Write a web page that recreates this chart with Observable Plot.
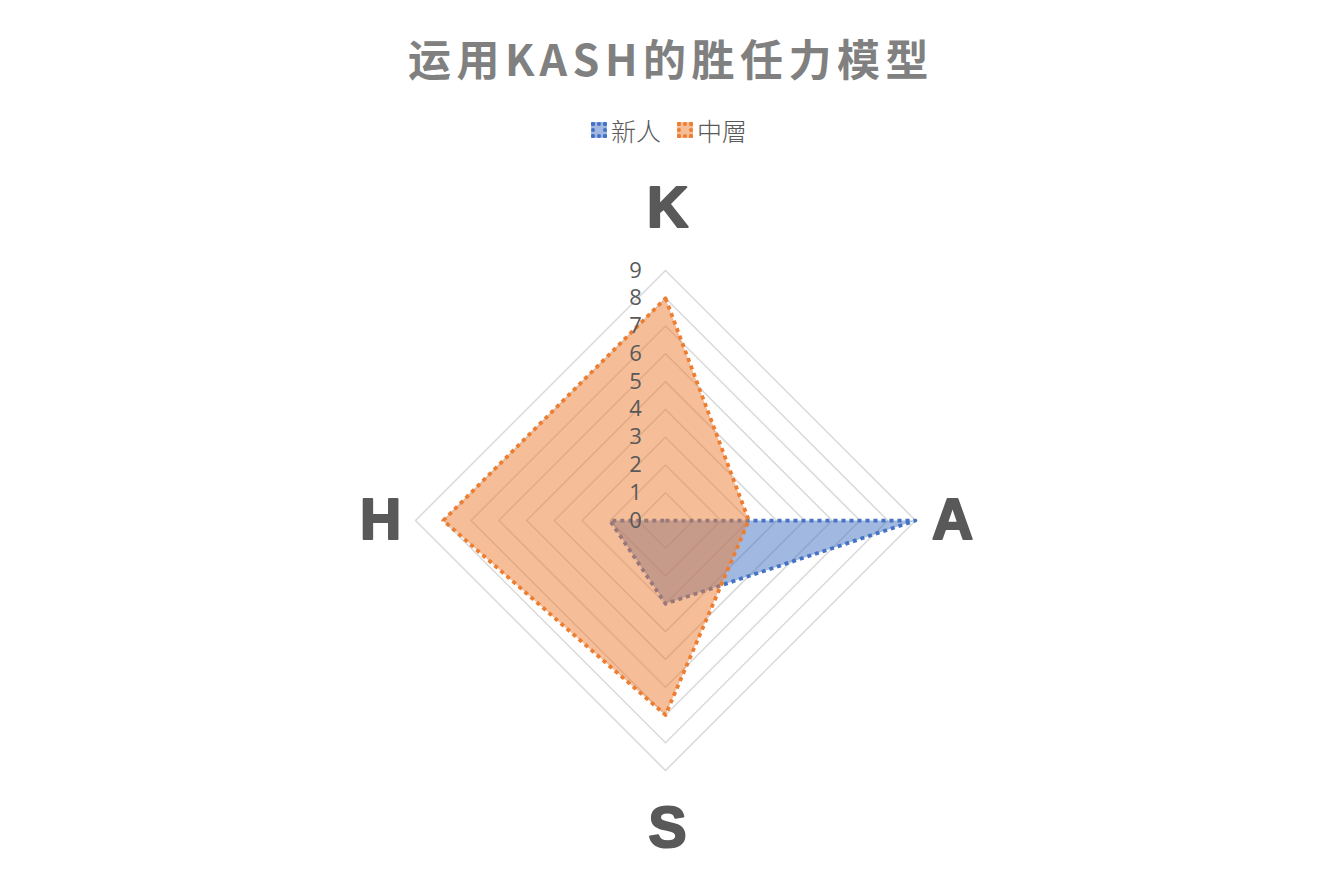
<!DOCTYPE html>
<html>
<head>
<meta charset="utf-8">
<script src="https://cdn.jsdelivr.net/npm/d3@7"></script>
<script src="https://cdn.jsdelivr.net/npm/@observablehq/plot@0.6"></script>
<style>
  html, body { margin: 0; padding: 0; background: #fff; }
  body { width: 1334px; height: 889px; overflow: hidden; }
  #title { height: 100px; line-height: 114px; text-align: center; font-family: "Noto Sans CJK SC", sans-serif; font-weight: 700; font-size: 43px; letter-spacing: 5.5px; color: #808080; padding-left: 8px; box-sizing: border-box; }
  #legend { height: 60px; display: flex; justify-content: center; align-items: center; font-family: "Noto Sans CJK TC", sans-serif; font-weight: 300; font-size: 25px; color: #595959; padding-left: 4px; box-sizing: border-box; }
  .item { display: flex; align-items: center; margin: 0 8px; }
  .sw { width: 16px; height: 16px; margin-right: 4px; box-sizing: border-box; }
  #chart svg { display: block; }
</style>
</head>
<body>
<div id="title">运用KASH的胜任力模型</div>
<div id="legend"></div>
<div id="chart"></div>
<script>
// ---- data ----
const axisNames = ["K", "A", "S", "H"];
const seriesNames = ["新人", "中層"];
const newcomerValues = [0, 9, 3, 2];
const middleValues = [8, 3, 7, 8];
const tickValues = [0, 1, 2, 3, 4, 5, 6, 7, 8, 9];
const ringLevels = [1, 2, 3, 4, 5, 6, 7, 8, 9];
const seriesColors = ["#4472C4", "#ED7D31"];

// ---- helpers ----
const angle = i => (i * 2 * Math.PI) / axisNames.length;
const px = (v, i) => v * Math.sin(angle(i));
const py = (v, i) => v * Math.cos(angle(i));

const rings = ringLevels.flatMap(r => axisNames.map((a, i) => ({ r, i })));
const seriesRows = [newcomerValues, middleValues].map((vals, s) =>
  vals.map((v, i) => ({ series: seriesNames[s], v, i }))
);
const labelRows = axisNames.map((name, i) => ({ name, i }));
const labelOffsets = { K: [2, -62], A: [37, 0], S: [2, 58], H: [-35, 0] };

// ---- legend ----
const legend = document.getElementById("legend");
seriesNames.forEach((n, s) => {
  const it = document.createElement("div");
  it.className = "item";
  const sw = document.createElement("div");
  sw.className = "sw";
  sw.style.border = `4px dotted ${seriesColors[s]}`;
  sw.style.background = d3.color(seriesColors[s]).copy({ opacity: 0.5 }).formatRgb();
  it.appendChild(sw);
  const t = document.createElement("span");
  t.textContent = n;
  it.appendChild(t);
  legend.appendChild(it);
});

// ---- chart ----
const cx = 665, cy = 360, R = 250;
const dottedLine = (rows, s) => Plot.line(rows, {
  x: d => px(d.v, d.i), y: d => py(d.v, d.i),
  curve: "linear-closed",
  fill: seriesColors[s], fillOpacity: 0.5,
  stroke: seriesColors[s], strokeWidth: 3.75, strokeDasharray: "4 4", strokeLinecap: "butt"
});

const chart = Plot.plot({
  width: 1334,
  height: 729,
  margin: 0,
  x: { domain: [-9, 9], range: [cx - R, cx + R], axis: null },
  y: { domain: [-9, 9], range: [cy + R, cy - R], axis: null },
  marks: [
    Plot.line(rings, {
      x: d => px(d.r, d.i), y: d => py(d.r, d.i), z: "r",
      curve: "linear-closed", stroke: "#d9d9d9", strokeWidth: 1.5
    }),
    dottedLine(seriesRows[0], 0),
    dottedLine(seriesRows[1], 1),
    Plot.text(tickValues, {
      x: d => 0, y: d => d, text: d => String(d), dx: -30,
      fontSize: 22, fill: "#595959", fontFamily: "Open Sans, sans-serif"
    }),
    ...labelRows.map(d => Plot.text([d], {
      x: r => px(9, r.i), y: r => py(9, r.i), text: "name",
      dx: labelOffsets[d.name][0], dy: labelOffsets[d.name][1],
      fontSize: 57, fontWeight: 900, fill: "#595959", stroke: "#595959", strokeWidth: 2.2,
      fontFamily: "Liberation Sans, Arial, sans-serif"
    }))
  ]
});
document.getElementById("chart").appendChild(chart);
</script>
</body>
</html>
